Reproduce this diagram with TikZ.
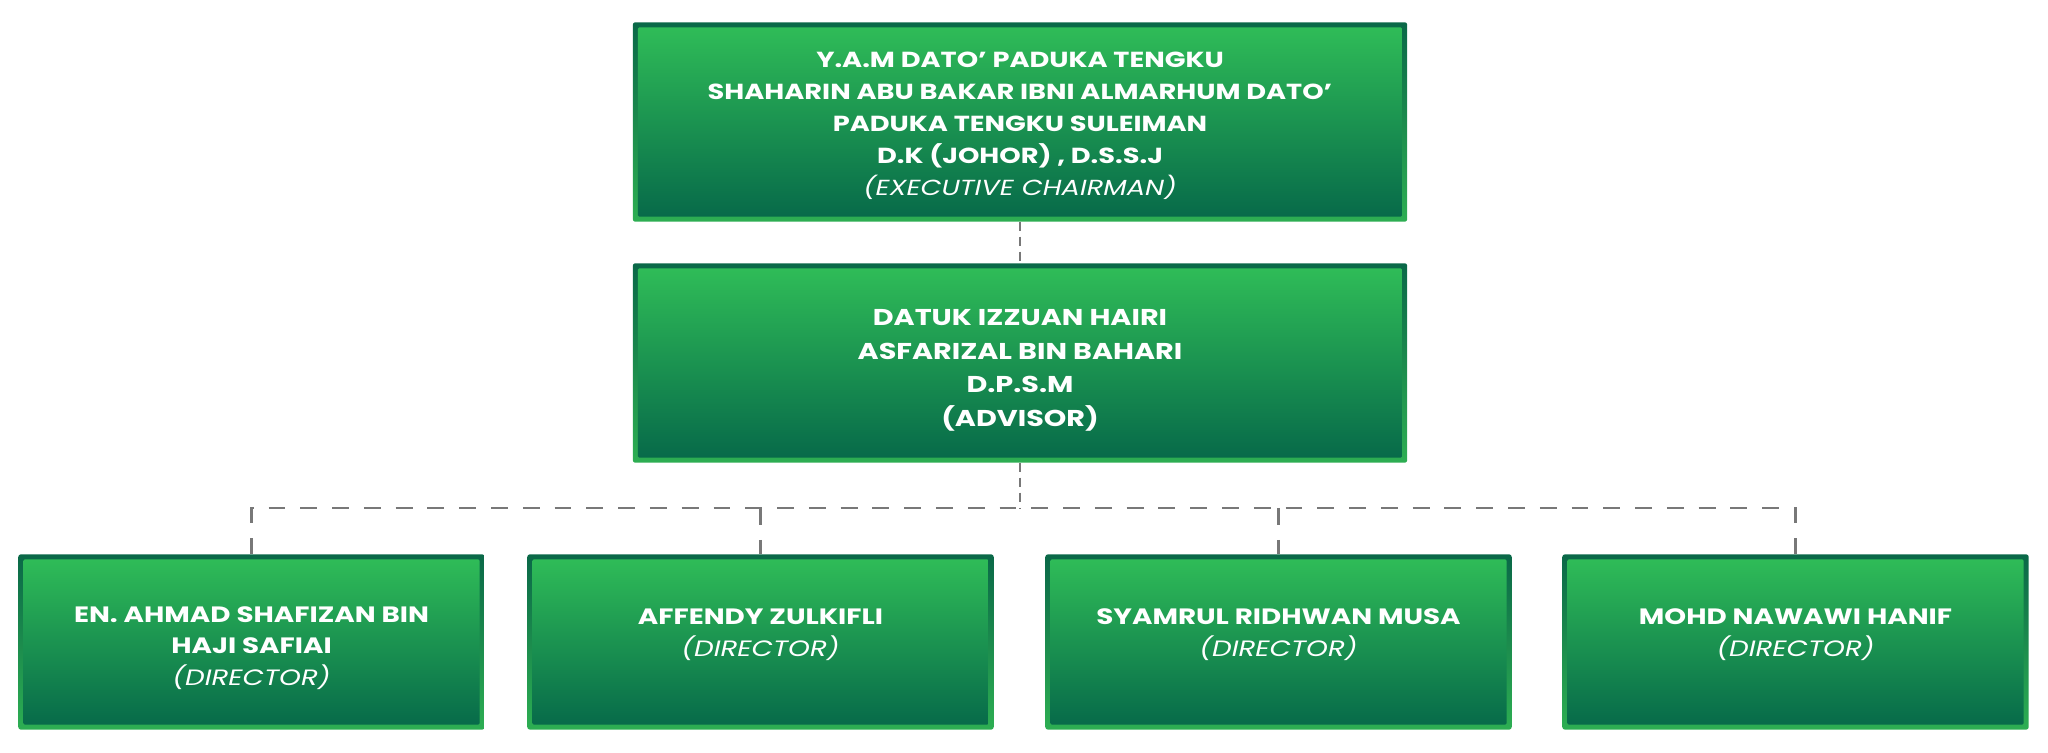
\documentclass[tikz,border=0pt]{standalone}
\usepackage{fontspec}
\setmainfont{Poppins}[FakeStretch=1.25]
\definecolor{cardlight}{RGB}{48,190,88}
\definecolor{carddark}{RGB}{6,104,73}
\definecolor{framedark}{RGB}{10,104,72}
\definecolor{framelight}{RGB}{45,174,82}
\definecolor{linkgray}{RGB}{120,120,120}

\begin{document}
\begin{tikzpicture}
  [ x=0.025cm, y=0.025cm,
    box/.style={rectangle, rounded corners=1.5pt, inner sep=0pt, outer sep=0pt,
      top color=framedark, bottom color=framelight, text=white, align=center,
      path picture={\shade[top color=cardlight, bottom color=carddark, rounded corners=1pt]
        ([xshift=3.5pt,yshift=-3.5pt]path picture bounding box.north west) rectangle
        ([xshift=-3.5pt,yshift=3.5pt]path picture bounding box.south east);}},
    big/.style={box, minimum width=19.35cm, minimum height=4.98cm},
    small/.style={box, minimum width=11.65cm, minimum height=4.375cm,
      font=\fontsize{15.8}{22.5}\selectfont\bfseries},
    link/.style={draw=linkgray, line width=2pt, dash pattern=on 12pt off 10.6pt},
    stub/.style={draw=linkgray, line width=2pt, dash pattern=on 6.4pt off 4.3pt}
  ]
  \useasboundingbox (0,0) rectangle (2048,-753);

  \node[big, font=\fontsize{15.5}{22.7}\selectfont\bfseries] (chairman) at (1020,-122)
    {\rule{0pt}{16.5pt}Y.A.M DATO’ PADUKA TENGKU\\
    SHAHARIN ABU BAKAR IBNI ALMARHUM DATO’\\
    PADUKA TENGKU SULEIMAN\\
    D.K (JOHOR) , D.S.S.J\\
    {\mdseries\itshape (EXECUTIVE CHAIRMAN)}};
  \node[big, font=\fontsize{16.3}{23.9}\selectfont\bfseries] (advisor) at (1020,-363)
    {\rule{0pt}{22pt}DATUK IZZUAN HAIRI\\
    ASFARIZAL BIN BAHARI\\
    D.P.S.M\\
    (ADVISOR)};

  \node[small] (dirone) at (251.5,-642) {\rule{0pt}{20pt}EN. AHMAD SHAFIZAN BIN\\
    HAJI SAFIAI\\ {\mdseries\itshape (DIRECTOR)}};
  \node[small] (dirtwo) at (760.5,-642) {\rule{0pt}{20pt}AFFENDY ZULKIFLI\\
    {\mdseries\itshape (DIRECTOR)}\\ \mbox{}};
  \node[small] (dirthree) at (1278.5,-642) {\rule{0pt}{20pt}SYAMRUL RIDHWAN MUSA\\
    {\mdseries\itshape (DIRECTOR)}\\ \mbox{}};
  \node[small] (dirfour) at (1795.5,-642) {\rule{0pt}{20pt}MOHD NAWAWI HANIF\\
    {\mdseries\itshape (DIRECTOR)}\\ \mbox{}};

  \coordinate (bus) at (1020,-508);

  \draw [stub] (chairman.south) -- (advisor.north);
  \draw [stub] (advisor.south) -- (bus);
  \draw [link] (dirone.north) -- (dirone.north |- bus) -- (dirfour.north |- bus) -- (dirfour.north);
  \draw [link] (dirtwo.north |- bus) -- (dirtwo.north);
  \draw [link] (dirthree.north |- bus) -- (dirthree.north);
\end{tikzpicture}
\end{document}
